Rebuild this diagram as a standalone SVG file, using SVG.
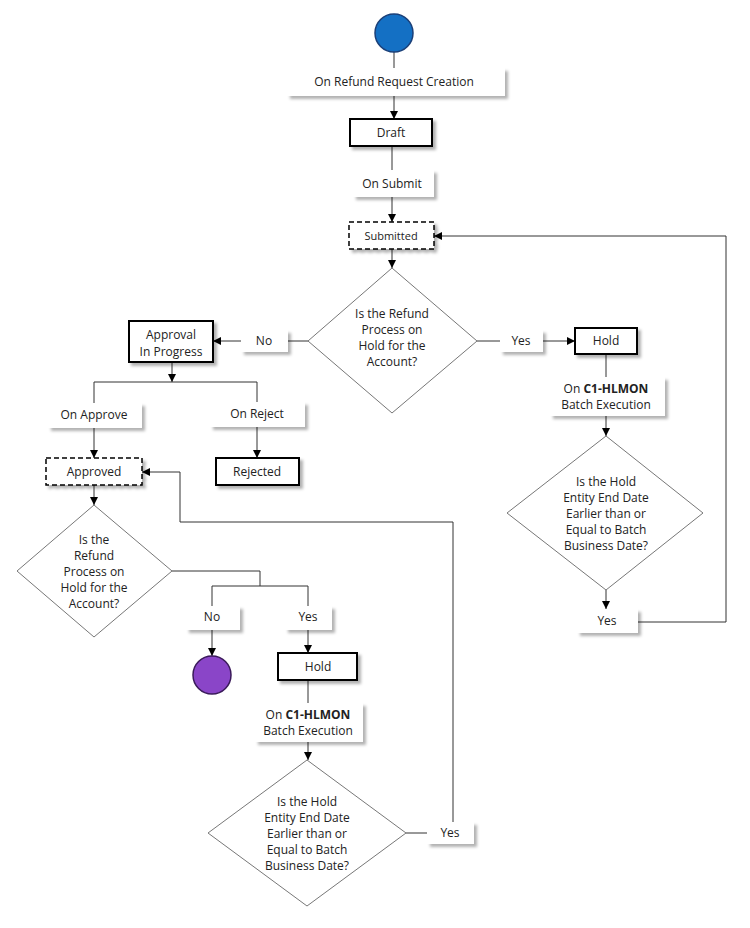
<svg xmlns="http://www.w3.org/2000/svg" width="750" height="928" viewBox="0 0 750 928">
<defs>
<filter id="sh" x="-20%" y="-20%" width="150%" height="160%"><feDropShadow dx="3" dy="3" stdDeviation="1.5" flood-color="#000" flood-opacity="0.3"/></filter>
<marker id="ar" viewBox="0 0 10 10" refX="10" refY="5" markerWidth="8" markerHeight="8" markerUnits="userSpaceOnUse" orient="auto"><path d="M0,0 L10,5 L0,10 z" fill="#000"/></marker>
</defs>
<style>
text{font-family:"Open Sans","Liberation Sans",sans-serif;font-size:12px;fill:#222;text-anchor:middle}
.lb{fill:#fff;stroke:none;filter:url(#sh)}
.st{fill:#fff;stroke:#000;stroke-width:2;filter:url(#sh)}
.ds{fill:#fff;stroke:#000;stroke-width:1.5;stroke-dasharray:5,3;filter:url(#sh)}
.dm{fill:#fff;stroke:#777;stroke-width:1}
.c{fill:none;stroke:#333;stroke-width:1}
.a{fill:none;stroke:#333;stroke-width:1;marker-end:url(#ar)}
b{font-weight:bold}
</style>
<rect width="750" height="928" fill="#fff"/>
<g id="connectors">
<path class="c" d="M394,52 V68"/>
<path class="a" d="M394,96 V119"/>
<path class="c" d="M392,146 V170"/>
<path class="a" d="M392,197 V222"/>
<path class="a" d="M392,249 V268"/>
<path class="c" d="M308,341 H288"/>
<path class="a" d="M241,341 H213"/>
<path class="c" d="M477,341 H500"/>
<path class="a" d="M543,341 H575"/>
<path class="a" d="M172,362 V382"/>
<path class="c" d="M94,403 V382 H257 V402"/>
<path class="a" d="M94,427 V458"/>
<path class="a" d="M257,427 V458"/>
<path class="a" d="M94,485 V505"/>
<path class="c" d="M172,571 H260 V586"/>
<path class="c" d="M212,606 V586 H308 V606"/>
<path class="a" d="M212,630 V656"/>
<path class="a" d="M308,630 V653"/>
<path class="c" d="M308,680 V703"/>
<path class="a" d="M308,742 V760"/>
<path class="c" d="M406,833 H427"/>
<path class="a" d="M453,822 V522 H180 V472 H142"/>
<path class="c" d="M606,354 V377"/>
<path class="a" d="M606,416 V436"/>
<path class="a" d="M606,590 V609"/>
<path class="a" d="M638,622 H726 V236 H434"/>
</g>
<g id="start"><circle cx="394" cy="33" r="19" fill="#1470c4" stroke="#1a3f78" stroke-width="1.5"/></g>
<g id="l_creation"><rect class="lb" x="287" y="68" width="218" height="28"/><text x="394" y="86">On Refund Request Creation</text></g>
<g id="draft"><rect class="st" x="350" y="119" width="82" height="27"/><text x="391" y="137">Draft</text></g>
<g id="l_submit"><rect class="lb" x="353" y="170" width="81" height="27"/><text x="392" y="188">On Submit</text></g>
<g id="submitted"><rect class="ds" x="349" y="222" width="85" height="27"/><text x="391" y="240" style="font-size:11px">Submitted</text></g>
<g id="d1"><polygon class="dm" points="392,268 477,341 392,413 308,341"/>
<text x="392" y="318">Is the Refund</text><text x="392" y="334">Process on</text><text x="392" y="350">Hold for the</text><text x="392" y="366">Account?</text></g>
<g id="l_no1"><rect class="lb" x="241" y="330" width="47" height="22"/><text x="264" y="345">No</text></g>
<g id="l_yes1"><rect class="lb" x="500" y="330" width="43" height="22"/><text x="521" y="345">Yes</text></g>
<g id="approval"><rect class="st" x="129" y="321" width="84" height="41"/><text x="171" y="339">Approval</text><text x="171" y="356">In Progress</text></g>
<g id="l_approve"><rect class="lb" x="48" y="403" width="94" height="25"/><text x="94" y="419">On Approve</text></g>
<g id="l_reject"><rect class="lb" x="210" y="402" width="95" height="25"/><text x="257" y="418">On Reject</text></g>
<g id="rejected"><rect class="st" x="216" y="458" width="83" height="27"/><text x="257" y="476">Rejected</text></g>
<g id="approved"><rect class="ds" x="46" y="458" width="96" height="27"/><text x="94" y="476">Approved</text></g>
<g id="d2"><polygon class="dm" points="94,505 172,571 94,637 17,571"/>
<text x="94" y="544">Is the</text><text x="94" y="560">Refund</text><text x="94" y="576">Process on</text><text x="94" y="592">Hold for the</text><text x="94" y="608">Account?</text></g>
<g id="l_no2"><rect class="lb" x="186" y="606" width="54" height="24"/><text x="212" y="621">No</text></g>
<g id="l_yes2"><rect class="lb" x="285" y="606" width="47" height="24"/><text x="308" y="621">Yes</text></g>
<g id="end"><circle cx="212" cy="675" r="19" fill="#8a45c8" stroke="#3a1a5a" stroke-width="1.5"/></g>
<g id="hold2"><rect class="st" x="278" y="653" width="79" height="27"/><text x="318" y="671">Hold</text></g>
<g id="l_batch2"><rect class="lb" x="255" y="703" width="108" height="39"/><text x="308" y="719">On <tspan font-weight="bold">C1-HLMON</tspan></text><text x="308" y="735">Batch Execution</text></g>
<g id="d3"><polygon class="dm" points="307,760 406,833 307,906 208,833"/>
<text x="307" y="806">Is the Hold</text><text x="307" y="822">Entity End Date</text><text x="307" y="838">Earlier than or</text><text x="307" y="854">Equal to Batch</text><text x="307" y="870">Business Date?</text></g>
<g id="l_yes3"><rect class="lb" x="427" y="822" width="47" height="22"/><text x="450" y="837">Yes</text></g>
<g id="hold1"><rect class="st" x="575" y="328" width="62" height="26"/><text x="606" y="345">Hold</text></g>
<g id="l_batch1"><rect class="lb" x="550" y="377" width="115" height="39"/><text x="606" y="393">On <tspan font-weight="bold">C1-HLMON</tspan></text><text x="606" y="409">Batch Execution</text></g>
<g id="d4"><polygon class="dm" points="606,436 703,513 606,590 507,513"/>
<text x="606" y="486">Is the Hold</text><text x="606" y="502">Entity End Date</text><text x="606" y="518">Earlier than or</text><text x="606" y="534">Equal to Batch</text><text x="606" y="550">Business Date?</text></g>
<g id="l_yes4"><rect class="lb" x="577" y="609" width="61" height="24"/><text x="607" y="625">Yes</text></g>
</svg>
